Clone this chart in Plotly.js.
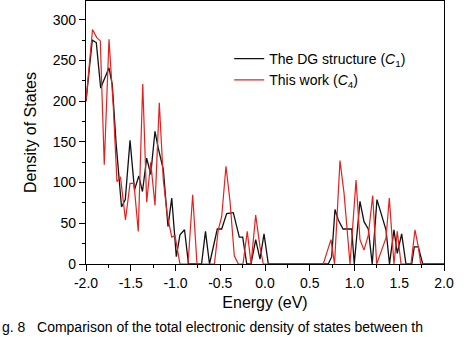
<!DOCTYPE html>
<html>
<head>
<meta charset="utf-8">
<script src="https://cdn.plot.ly/plotly-3.0.1.min.js"></script>
<style>html,body{margin:0;padding:0;background:#fff;}#chart{width:474px;height:337px;}</style>
</head>
<body>
<div id="chart"></div>
<script>
// Black series: the DG structure (C1)
const dgEnergy = [-2.0,-1.930,-1.885,-1.836,-1.743,-1.706,-1.665,-1.603,-1.561,-1.508,-1.458,-1.410,-1.369,-1.322,-1.277,-1.229,-1.192,-1.136,-1.084,-1.042,-0.991,-0.950,-0.899,-0.855,-0.709,-0.665,-0.620,-0.533,-0.484,-0.428,-0.354,-0.287,-0.249,-0.204,-0.156,-0.104,-0.056,-0.011,0.037,0.707,0.745,0.782,0.819,0.872,0.969,0.997,1.061,1.106,1.154,1.198,1.251,1.296,1.352,1.391,1.441,1.478,1.527,1.575,1.639,1.668,1.713,1.762,2.0];
const dgDos = [200,275,272,216,241,220,150,70,79,152,91,108,89,130,110,163,142,116,46,81,9,36,42,0,0,40,0,43,43,62,63,33,33,0,0,30,6,37,0,0,9,67,54,43,43,0,77,52,43,0,79,61,42,0,42,13,37,0,0,21,21,0,0];
// Red series: this work (C4)
const c4Energy = [-2.0,-1.927,-1.880,-1.840,-1.796,-1.743,-1.695,-1.654,-1.615,-1.559,-1.508,-1.464,-1.416,-1.366,-1.322,-1.277,-1.229,-1.181,-1.136,-1.092,-1.042,-1.006,-0.950,-0.860,-0.808,-0.760,-0.565,-0.522,-0.484,-0.436,-0.391,-0.343,-0.298,-0.246,-0.198,-0.156,-0.104,-0.056,-0.019,0.651,0.737,0.777,0.838,0.883,0.950,1.017,1.061,1.106,1.154,1.203,1.248,1.304,1.352,1.389,1.441,1.478,1.520,1.631,1.676,1.713,1.740,2.0];
const c4Dos = [200,288,278,274,122,276,193,101,107,54,99,99,40,221,76,125,72,198,103,60,33,35,0,0,85,0,0,42,58,120,77,10,0,0,40,0,60,21,0,0,30,0,127,87,0,103,30,17,35,84,0,17,32,81,0,40,0,0,42,21,0,0];
const xTicks = [-2.0,-1.5,-1.0,-0.5,0.0,0.5,1.0,1.5,2.0];
const xTickText = ['-2.0','-1.5','-1.0','-0.5','0.0','0.5','1.0','1.5','2.0'];
const yTicks = [0,50,100,150,200,250,300];

const font = {family:'"Liberation Sans", Arial, sans-serif', color:'#000'};
const traces = [
  {x: dgEnergy, y: dgDos, type:'scatter', mode:'lines', name:'The DG structure (<i>C</i><sub>1</sub>)', line:{color:'#111', width:1.3}},
  {x: c4Energy, y: c4Dos, type:'scatter', mode:'lines', name:'This work (<i>C</i><sub>4</sub>)', line:{color:'#e8201c', width:1.2}}
];
const layout = {
  width:474, height:337,
  margin:{l:86, r:30, t:1, b:73},
  paper_bgcolor:'#fff', plot_bgcolor:'#fff',
  font: Object.assign({size:14}, font),
  showlegend:true,
  legend:{x:0.40, y:0.84, xanchor:'left', yanchor:'top', bgcolor:'rgba(0,0,0,0)', borderwidth:0, font:Object.assign({size:14}, font), tracegroupgap:0, itemwidth:30},
  xaxis:{range:[-2,2], tickvals:xTicks, ticktext:xTickText, ticks:'outside', ticklen:6, tickwidth:1, tickcolor:'#000',
    showline:true, linecolor:'#000', linewidth:1.2, mirror:true, showgrid:false, zeroline:false,
    tickfont:Object.assign({size:14}, font),
    minor:{dtick:0.25, ticks:'outside', ticklen:3, tickcolor:'#000', showgrid:false},
    title:{text:'Energy (eV)', font:Object.assign({size:16}, font), standoff:6}},
  yaxis:{range:[0,323], tickvals:yTicks, ticks:'outside', ticklen:6, tickwidth:1, tickcolor:'#000',
    showline:true, linecolor:'#000', linewidth:1.2, mirror:true, showgrid:false, zeroline:false,
    tickfont:Object.assign({size:14}, font),
    minor:{dtick:25, ticks:'outside', ticklen:3, tickcolor:'#000', showgrid:false},
    title:{text:'Density of States', font:Object.assign({size:16}, font), standoff:12}},
  annotations:[{text:'g. 8   Comparison of the total electronic density of states between th', xref:'paper', yref:'paper', x:-0.24, y:-0.278, xanchor:'left', yanchor:'bottom', showarrow:false, font:Object.assign({size:14}, font)}]
};
Plotly.newPlot('chart', traces, layout, {displayModeBar:false, staticPlot:true});
</script>
</body>
</html>
